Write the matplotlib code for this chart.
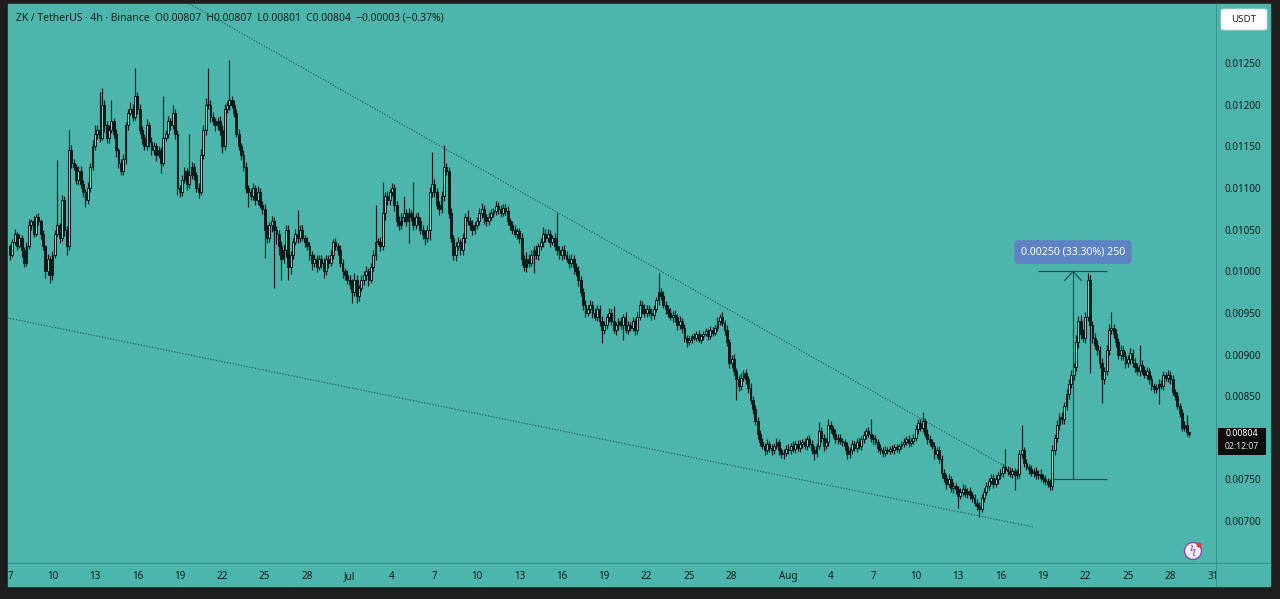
import numpy as np
import pandas as pd
import matplotlib
matplotlib.use("Agg")
import matplotlib.pyplot as plt
import matplotlib.dates as mdates
import matplotlib.transforms as mtransforms
from matplotlib.patches import Rectangle, FancyBboxPatch, Circle

# DATA ---------------------------------------------------------------------------------
# 4h candles of ZK/USDT, values in units of 1e-5 USDT, one row per day (6 candles)
start_time = "2024-06-07 00:00"
first_open = 1030
closes = [
    [1020, 1035, 1045, 1030, 1040, 1025], [1010, 1030, 1055, 1060, 1045, 1065],
    [1060, 1045, 1030, 1000, 1015, 995], [1020, 1045, 1055, 1040, 1085, 1050],
    [1030, 1145, 1130, 1125, 1110, 1120], [1105, 1095, 1085, 1100, 1125, 1150],
    [1165, 1170, 1160, 1200, 1175, 1160], [1170, 1180, 1165, 1145, 1130, 1120],
    [1135, 1175, 1190, 1195, 1185, 1210], [1195, 1170, 1160, 1150, 1175, 1155],
    [1145, 1150, 1140, 1145, 1130, 1160], [1165, 1180, 1175, 1190, 1165, 1100],
    [1095, 1110, 1120, 1105, 1115, 1125], [1115, 1100, 1095, 1140, 1170, 1200],
    [1200, 1185, 1180, 1175, 1180, 1170], [1150, 1195, 1200, 1205, 1200, 1190],
    [1165, 1150, 1140, 1125, 1100, 1095], [1090, 1100, 1085, 1095, 1080, 1075],
    [1050, 1040, 1055, 1060, 1050, 1045], [1030, 1015, 1025, 1050, 1005, 1020],
    [1035, 1045, 1040, 1050, 1040, 1035], [1030, 1020, 1010, 1015, 1005, 1015],
    [1010, 1000, 1015, 1010, 1020, 1035], [1030, 1025, 1010, 1000, 995, 990],
    [985, 975, 990, 970, 980, 990], [995, 1000, 990, 1005, 1020, 1035],
    [1035, 1030, 1070, 1090, 1085, 1095], [1100, 1080, 1060, 1055, 1065, 1070],
    [1060, 1070, 1065, 1055, 1065, 1060], [1050, 1045, 1040, 1050, 1095, 1105],
    [1095, 1080, 1075, 1090, 1125, 1120], [1070, 1040, 1020, 1030, 1035, 1025],
    [1040, 1065, 1060, 1055, 1050, 1055], [1060, 1070, 1075, 1065, 1060, 1065],
    [1070, 1072, 1078, 1075, 1070, 1076], [1072, 1060, 1055, 1050, 1045, 1048],
    [1040, 1015, 1005, 1015, 1010, 1020], [1025, 1020, 1030, 1035, 1045, 1040],
    [1045, 1035, 1040, 1030, 1025, 1020], [1025, 1020, 1015, 1010, 1015, 1005],
    [1000, 990, 975, 960, 950, 955], [960, 950, 945, 955, 940, 930],
    [935, 945, 950, 940, 930, 935], [940, 935, 945, 930, 935, 932],
    [940, 930, 945, 960, 955, 950], [955, 950, 948, 955, 965, 975],
    [970, 960, 955, 950, 945, 948], [945, 935, 940, 932, 920, 915],
    [918, 922, 920, 925, 918, 922], [925, 928, 922, 930, 926, 932],
    [940, 945, 938, 930, 915, 890], [895, 880, 870, 862, 872, 878],
    [870, 860, 845, 835, 820, 805], [795, 790, 785, 792, 788, 785],
    [790, 795, 785, 780, 782, 787], [785, 790, 787, 792, 788, 793],
    [795, 790, 798, 793, 785, 782], [790, 808, 800, 790, 795, 815],
    [810, 805, 798, 800, 796, 795], [790, 780, 785, 792, 788, 795],
    [790, 798, 803, 808, 805, 800], [798, 795, 788, 785, 782, 785],
    [784, 787, 785, 789, 786, 790], [792, 795, 798, 794, 796, 800],
    [810, 818, 812, 820, 805, 798], [795, 790, 780, 785, 775, 758],
    [752, 745, 750, 740, 742, 738], [730, 735, 738, 733, 736, 731],
    [728, 722, 718, 715, 728, 735], [742, 748, 752, 745, 750, 755],
    [758, 765, 762, 760, 757, 760], [755, 757, 780, 785, 770, 765],
    [762, 758, 760, 755, 757, 752], [750, 748, 745, 742, 785, 800],
    [815, 825, 822, 838, 852, 865], [875, 885, 915, 940, 925, 920],
    [945, 990, 935, 920, 912, 905], [890, 870, 880, 905, 930, 932],
    [925, 915, 900, 905, 898, 890], [895, 902, 890, 885, 880, 888],
    [882, 876, 880, 870, 862, 858], [860, 865, 862, 875, 872, 876],
    [870, 855, 850, 838, 830, 812], [815, 807, 804],
]
# upper / lower wick lengths beyond the body (same units)
wick_up = [
    [3, 4, 6, 2, 5, 3], [4, 5, 8, 3, 6, 4], [5, 3, 4, 2, 6, 3], [4, 5, 79, 3, 6, 5],
    [4, 25, 6, 5, 4, 6], [6, 5, 4, 7, 5, 8], [10, 5, 45, 20, 6, 5], [5, 25, 4, 6, 3, 5],
    [6, 4, 5, 8, 6, 34], [5, 6, 4, 5, 8, 4], [6, 5, 4, 5, 4, 50], [5, 6, 4, 10, 5, 4],
    [4, 6, 5, 4, 50, 6], [5, 4, 6, 7, 5, 8], [44, 5, 6, 4, 5, 6], [5, 6, 4, 49, 5, 6],
    [5, 6, 4, 5, 6, 4], [5, 6, 4, 7, 5, 4], [6, 5, 4, 6, 5, 4], [5, 6, 8, 5, 6, 4],
    [5, 6, 28, 5, 6, 4], [6, 5, 4, 6, 5, 4], [5, 6, 4, 5, 6, 4], [5, 4, 6, 5, 4, 6],
    [5, 6, 8, 5, 4, 6], [5, 6, 4, 5, 6, 45], [5, 6, 37, 5, 6, 4], [6, 5, 4, 6, 5, 20],
    [5, 6, 4, 42, 5, 6], [5, 6, 4, 5, 6, 38], [6, 5, 4, 6, 27, 5], [5, 6, 4, 5, 6, 4],
    [6, 5, 8, 5, 6, 4], [5, 6, 7, 5, 4, 6], [5, 4, 6, 5, 4, 5], [5, 6, 4, 5, 6, 4],
    [4, 6, 5, 8, 6, 5], [5, 6, 4, 5, 8, 6], [6, 5, 4, 6, 40, 5], [5, 6, 4, 5, 6, 5],
    [5, 6, 4, 5, 6, 5], [5, 4, 6, 5, 4, 6], [5, 4, 6, 5, 18, 4], [4, 5, 4, 6, 5, 4],
    [5, 4, 6, 5, 4, 6], [5, 4, 6, 5, 4, 23], [5, 6, 4, 5, 6, 4], [5, 4, 6, 4, 5, 4],
    [4, 3, 4, 3, 4, 3], [3, 4, 3, 4, 3, 4], [5, 4, 6, 4, 5, 4], [5, 6, 4, 5, 6, 4],
    [5, 4, 6, 5, 4, 5], [4, 5, 4, 6, 4, 5], [4, 5, 4, 3, 5, 4], [5, 4, 6, 4, 5, 4],
    [4, 5, 4, 5, 4, 5], [4, 11, 5, 4, 5, 7], [5, 4, 5, 4, 5, 4], [4, 5, 4, 5, 4, 5],
    [5, 4, 5, 4, 5, 18], [4, 5, 4, 5, 4, 5], [4, 3, 4, 3, 4, 3], [4, 5, 4, 5, 4, 5],
    [5, 4, 5, 11, 4, 5], [5, 4, 5, 4, 5, 4], [5, 4, 6, 4, 5, 4], [4, 5, 6, 5, 4, 5],
    [4, 5, 4, 5, 4, 5], [5, 4, 5, 4, 5, 4], [5, 4, 21, 4, 5, 4], [4, 5, 5, 30, 4, 5],
    [4, 5, 4, 5, 4, 5], [4, 5, 4, 5, 6, 5], [6, 5, 6, 5, 6, 5], [6, 5, 8, 6, 7, 6],
    [6, 8, 6, 5, 6, 5], [5, 6, 5, 6, 7, 19], [5, 6, 5, 6, 5, 6], [5, 6, 5, 6, 5, 23],
    [5, 4, 5, 4, 5, 4], [4, 5, 4, 5, 4, 5], [4, 5, 4, 5, 4, 5], [5, 12, 0],
]
wick_dn = [
    [6, 3, 4, 5, 2, 8], [5, 4, 3, 6, 4, 3], [4, 6, 5, 8, 5, 9], [5, 4, 3, 6, 4, 8],
    [10, 5, 6, 4, 5, 7], [5, 6, 8, 4, 5, 3], [4, 6, 5, 3, 8, 6], [6, 4, 5, 8, 6, 5],
    [4, 6, 5, 3, 5, 4], [6, 5, 7, 4, 5, 6], [5, 6, 8, 4, 12, 4], [4, 5, 6, 4, 6, 8],
    [6, 5, 4, 7, 5, 4], [6, 5, 7, 4, 5, 6], [5, 6, 4, 7, 5, 6], [8, 4, 5, 6, 4, 5],
    [4, 5, 6, 5, 6, 18], [4, 5, 6, 5, 4, 6], [34, 6, 5, 8, 70, 12], [10, 25, 5, 8, 15, 8],
    [5, 4, 6, 5, 4, 6], [5, 6, 8, 5, 6, 4], [6, 8, 5, 6, 4, 5], [4, 6, 5, 8, 6, 5],
    [6, 13, 5, 8, 6, 4], [6, 5, 8, 4, 5, 6], [4, 6, 5, 8, 5, 6], [5, 8, 6, 5, 4, 6],
    [6, 26, 5, 6, 4, 5], [5, 6, 8, 5, 13, 6], [6, 5, 8, 5, 6, 4], [6, 5, 6, 8, 5, 6],
    [5, 6, 4, 5, 6, 5], [4, 5, 6, 8, 6, 5], [4, 5, 4, 6, 5, 4], [5, 4, 6, 5, 4, 6],
    [6, 8, 5, 6, 5, 4], [22, 5, 6, 4, 6, 5], [5, 6, 4, 5, 6, 5], [6, 5, 4, 6, 5, 8],
    [6, 8, 5, 6, 5, 4], [5, 6, 4, 5, 6, 16], [5, 4, 6, 5, 4, 6], [5, 4, 17, 4, 5, 4],
    [4, 6, 5, 4, 6, 5], [5, 4, 6, 5, 4, 5], [5, 4, 6, 5, 4, 6], [6, 5, 4, 6, 5, 6],
    [3, 4, 3, 4, 3, 4], [4, 3, 4, 3, 4, 3], [4, 5, 4, 6, 5, 6], [6, 5, 25, 6, 5, 4],
    [5, 6, 5, 6, 5, 6], [5, 4, 6, 4, 5, 6], [5, 4, 6, 4, 5, 4], [4, 5, 4, 5, 4, 5],
    [5, 4, 5, 4, 5, 9], [5, 4, 5, 6, 4, 5], [4, 5, 4, 5, 4, 5], [5, 5, 4, 5, 4, 5],
    [4, 5, 4, 5, 4, 5], [5, 4, 5, 4, 5, 4], [3, 4, 3, 4, 3, 4], [4, 3, 4, 5, 4, 3],
    [4, 5, 4, 5, 4, 5], [5, 4, 5, 4, 5, 6], [5, 6, 4, 5, 6, 5], [14, 4, 5, 4, 5, 4],
    [5, 4, 5, 10, 4, 5], [4, 5, 4, 5, 4, 5], [4, 5, 4, 5, 4, 5], [18, 4, 5, 4, 5, 4],
    [5, 4, 5, 4, 5, 4], [4, 5, 4, 5, 5, 6], [5, 6, 5, 6, 5, 6], [5, 6, 5, 7, 6, 5],
    [6, 5, 57, 6, 5, 6], [6, 28, 6, 5, 6, 5], [5, 6, 5, 6, 5, 6], [5, 6, 5, 6, 5, 6],
    [5, 4, 5, 6, 5, 4], [4, 20, 4, 5, 4, 5], [5, 4, 5, 4, 5, 4], [4, 5, 3],
]

price_ticks = [0.0070, 0.0075, 0.0080, 0.0085, 0.0090, 0.0095, 0.0100,
               0.0105, 0.0110, 0.0115, 0.0120, 0.0125]
date_ticks = ["2024-06-07", "2024-06-10", "2024-06-13", "2024-06-16", "2024-06-19",
              "2024-06-22", "2024-06-25", "2024-06-28", "2024-07-01", "2024-07-04",
              "2024-07-07", "2024-07-10", "2024-07-13", "2024-07-16", "2024-07-19",
              "2024-07-22", "2024-07-25", "2024-07-28", "2024-08-01", "2024-08-04",
              "2024-08-07", "2024-08-10", "2024-08-13", "2024-08-16", "2024-08-19",
              "2024-08-22", "2024-08-25", "2024-08-28", "2024-08-31"]
date_labels = ["7", "10", "13", "16", "19", "22", "25", "28", "Jul", "4", "7", "10",
               "13", "16", "19", "22", "25", "28", "Aug", "4", "7", "10", "13", "16",
               "19", "22", "25", "28", "31"]

# drawn lines (time, price)
upper_trend = [("2024-06-19 17:00", 0.013210), ("2024-08-17 00:30", 0.007590)]
lower_trend = [("2024-06-06 20:00", 0.009440), ("2024-08-18 07:00", 0.006930)]
measure_low = 0.0075
measure_high = 0.0100
measure_top_span = ("2024-08-18 15:30", "2024-08-23 12:30")
measure_bottom_span = ("2024-08-19 17:00", "2024-08-23 12:30")
measure_time = "2024-08-21 03:00"
measure_label = "0.00250 (33.30%) 250"

header = ("ZK / TetherUS · 4h · Binance  O0.00807  H0.00807  L0.00801  "
          "C0.00804  −0.00003 (−0.37%)")
countdown = "02:12:07"

# STYLE --------------------------------------------------------------------------------
TEAL = "#4db6ac"
FRAME = "#1e1e1e"
INK = "#0c1a19"
UP_FILL = "#86cfc7"
SEP = "#3b948c"
W, H = 1280, 599

plt.rcParams["font.family"] = ["Noto Sans", "DejaVu Sans"]

fig = plt.figure(figsize=(W / 100, H / 100), dpi=100, facecolor=FRAME)
fig.patches.append(Rectangle((8 / W, 1 - 586 / H), (1270 - 8) / W, (586 - 4) / H,
                             transform=fig.transFigure, color=TEAL, zorder=-10))
ax = fig.add_axes([8 / W, 1 - 563 / H, (1216 - 8) / W, (563 - 4) / H])
ax.set_facecolor(TEAL)
for s in ax.spines.values():
    s.set_visible(False)

# candles
c = np.concatenate([np.array(r, float) for r in closes]) * 1e-5
o = np.concatenate([[first_open * 1e-5], c[:-1]])
hi = np.maximum(o, c) + np.concatenate([np.array(r, float) for r in wick_up]) * 1e-5
lo = np.minimum(o, c) - np.concatenate([np.array(r, float) for r in wick_dn]) * 1e-5
times = pd.date_range(start_time, periods=len(c), freq="4h")
x = mdates.date2num(times.to_pydatetime())

up = c >= o
ax.vlines(x, lo, hi, color=INK, lw=0.85, zorder=3)
body = np.maximum(np.abs(c - o), 0.8e-5)
ax.bar(x[up], body[up], bottom=np.minimum(o, c)[up], width=0.13,
       color=UP_FILL, edgecolor=INK, linewidth=0.7, zorder=4)
ax.bar(x[~up], body[~up], bottom=np.minimum(o, c)[~up], width=0.13,
       color=INK, edgecolor=INK, linewidth=0.7, zorder=4)

# trend lines
for line in (upper_trend, lower_trend):
    lx = [mdates.date2num(pd.Timestamp(t)) for t, _ in line]
    ly = [p for _, p in line]
    ax.plot(lx, ly, color="#265a55", lw=0.85, ls=(0, (1, 1.4)), zorder=2)

# price range measurement
t_mid = mdates.date2num(pd.Timestamp(measure_time))
top = [mdates.date2num(pd.Timestamp(t)) for t in measure_top_span]
bot = [mdates.date2num(pd.Timestamp(t)) for t in measure_bottom_span]
ax.hlines(measure_high, top[0], top[1], color="#1f4f4a", lw=0.9, zorder=5)
ax.hlines(measure_low, bot[0], bot[1], color="#1f4f4a", lw=0.9, zorder=5)
ax.vlines(t_mid, measure_low, measure_high, color="#1f4f4a", lw=0.9, zorder=5)
ax.plot([t_mid - 0.58, t_mid, t_mid + 0.58],
        [measure_high - 0.00011, measure_high, measure_high - 0.00011],
        color="#1f4f4a", lw=0.9, zorder=5)
ax.text(t_mid, measure_high + 0.00023, measure_label, ha="center", va="center",
        fontsize=7.6, color="white", zorder=6,
        bbox=dict(boxstyle="round,pad=0.6,rounding_size=0.3", fc="#5f82c4", ec="none"))

# axes
ax.set_xlim(mdates.date2num(pd.Timestamp(start_time)) - 0.14,
            mdates.date2num(pd.Timestamp(start_time)) + 85.23)
ax.set_ylim(0.006497, 0.013208)
ax.set_xticks([mdates.date2num(pd.Timestamp(d)) for d in date_ticks])
ax.set_xticklabels(date_labels)
ax.yaxis.tick_right()
ax.set_yticks(price_ticks)
ax.set_yticklabels([f"{p:.5f}" for p in price_ticks])
ax.tick_params(axis="both", length=0, colors=INK, labelsize=7.1)
ax.tick_params(axis="y", pad=6)
ax.tick_params(axis="x", pad=6)
for lab in ax.get_xticklabels():
    if lab.get_text() in ("Jul", "Aug"):
        lab.set_fontweight("bold")
last = c[-1]
for lab, p in zip(ax.get_yticklabels(), price_ticks):
    if round(p * 1e5) % 100 == 0:
        lab.set_fontweight("bold")
    # the last-price tag sits on top of this label in the original view
    if abs(p - last) < 0.0001:
        lab.set_visible(False)

# separators
fig.add_artist(plt.Line2D([1216 / W, 1216 / W], [1 - 586 / H, 1 - 4 / H],
                          transform=fig.transFigure, color=SEP, lw=0.8))
fig.add_artist(plt.Line2D([8 / W, 1270 / W], [1 - 563 / H, 1 - 563 / H],
                          transform=fig.transFigure, color=SEP, lw=0.8))

# header
fig.text(16 / W, 1 - 18 / H, header, fontsize=7.45, color="#141f1e", va="center",
         ha="left")

# USDT button
fig.patches.append(FancyBboxPatch((1221 / W, 1 - 30 / H), 46 / W, 21 / H,
                                  boxstyle="round,pad=0,rounding_size=0.003",
                                  transform=fig.transFigure, fc="white", ec="#cfd8d7",
                                  lw=0.6, zorder=2))
fig.text(1244 / W, 1 - 19.5 / H, "USDT", fontsize=7, color="#222", ha="center",
         va="center", zorder=3)

# last price tag (pixel placement from the last close)
fig.canvas.draw()
y_px = ax.transData.transform((0, last))[1]
fig.patches.append(Rectangle((1218 / W, (y_px - 21) / H), 48 / W, 27 / H,
                             transform=fig.transFigure, fc="#0d0d0d", ec="none", zorder=3))
fig.text(1242 / W, (y_px + 0.5) / H, f"{last:.5f}", fontsize=6.4, color="white",
         ha="center", va="center", zorder=4)
fig.text(1242 / W, (y_px - 12.5) / H, countdown, fontsize=6.2, color="#e0e0e0",
         ha="center", va="center", zorder=4)

# corner icon (pixel units)
px = mtransforms.IdentityTransform()
fig.patches.append(Circle((1193, H - 551), 8.5, transform=px,
                          fc="#f3eefa", ec="#8e44ad", lw=1.0, zorder=3))
fig.patches.append(Circle((1199, H - 545), 2.6, transform=px,
                          fc="#e53935", ec="none", zorder=4))
fig.text(1193 / W, 1 - 551 / H, "ϟ", fontsize=8, color="#8e44ad", ha="center",
         va="center", zorder=4)

fig.savefig("out.png", dpi=100, facecolor=FRAME)
